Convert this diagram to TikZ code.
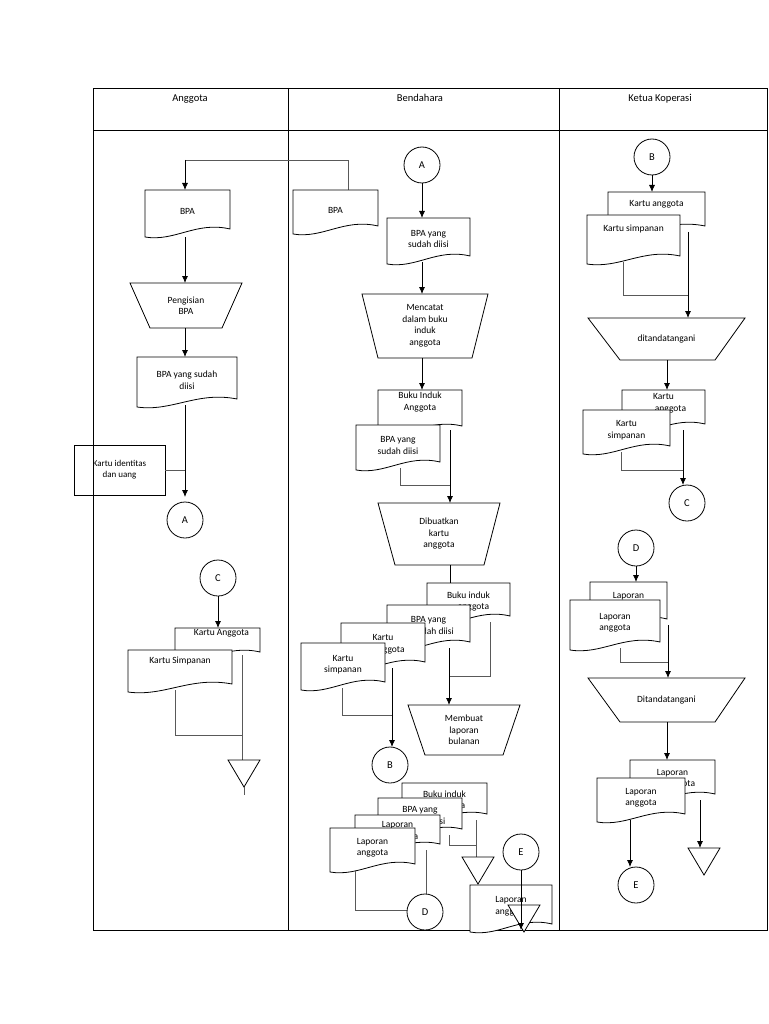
\documentclass[tikz,border=0pt]{standalone}
\usepackage{fontspec}
\setmainfont{Carlito}
\usetikzlibrary{arrows.meta}
\begin{document}
\begin{tikzpicture}[x=1pt,y=-1pt,line width=0.8pt,
 doc/.style={draw,fill=white},
 txt/.style={font=\fontsize{9.5}{11.5}\selectfont,align=center,inner sep=0pt},
 circ/.style={draw,circle,fill=white,minimum size=36pt,inner sep=0pt,font=\fontsize{10.5}{12}\selectfont},
 gl/.style={draw,gray!70!black,line width=0.6pt},
 arr/.style={draw,-{Latex[length=7pt,width=6pt]}},
 hdr/.style={font=\fontsize{10.5}{12}\selectfont,anchor=base}]
\useasboundingbox (0,0) rectangle (768,1024);
\newcommand\docu[6]{%
 \pgfmathsetmacro\dw{#4-#2}%
 \draw[doc] (#2,#3) -- (#4,#3) -- (#4,#5-8) .. controls (#2+0.6*\dw,#5-16) and (#2+0.35*\dw,#5+5) .. (#2,#5) -- cycle;
 \node[txt] (#1) at ({(#2+#4)/2},{(#3+#5)/2-2}) {#6};}
\newcommand\trap[8]{% name tl tr yt bl br yb text
 \draw[fill=white] (#2,#4) -- (#3,#4) -- (#6,#7) -- (#5,#7) -- cycle;
 \node[txt] (#1) at ({(#2+#3)/2},{(#4+#7)/2}) {#8};}
\newcommand\mrg[4]{% name x1 x2 y
 \draw[fill=white] (#2,#4) -- (#3,#4) -- ({(#2+#3)/2},#4+27) -- cycle;
 \coordinate (#1) at ({(#2+#3)/2},#4);}
% frame
\draw (93,88) rectangle (767,930);
\draw (93,130) -- (767,130);
\draw (288,88) -- (288,930);
\draw (559,88) -- (559,930);
\node[hdr] (h1) at (190,102) {Anggota};
\node[hdr] (h2) at (420,102) {Bendahara};
\node[hdr] (h3) at (660,102) {Ketua Koperasi};
% ===== Anggota
\draw[gl] (348,190) -- (348,160) -- (185,160);
\draw[arr] (185,160) -- (185,190);
\docu{bpa1}{145}{190}{230}{237}{BPA}
\draw[arr] (185,237) -- (185,283);
\trap{p1}{130}{242}{283}{150}{222}{328}{Pengisian\\BPA}
\draw[arr] (185,328) -- (185,357);
\docu{bpa2}{137}{357}{237}{407}{BPA yang sudah\\diisi}
\draw[arr] (185,405) -- (185,497);
\draw (74,445) rectangle (165,495);
\node[txt,font=\fontsize{9}{11}\selectfont] (ki) at (119.5,470) {Kartu identitas\\dan uang};
\draw[gl] (165,470) -- (185,470);
\node[circ] (A1) at (185,520) {A};
\node[circ] (C2) at (218,578) {C};
\draw[arr] (C2) -- (218,628);
\docu{ka1}{175}{628}{260}{660}{\hspace{8pt}Kartu Anggota\\[8pt]}
\docu{ks1}{128}{650}{232}{692}{Kartu Simpanan\\[6pt]}
\draw[gl] (175,690) -- (175,735) -- (242,735);
\draw[gl] (242,655) -- (242,760);
\mrg{m1}{228}{260}{760}
\draw[gl] (244,787) -- (244,795);
% ===== Bendahara
\docu{bpa3}{293}{190}{378}{234}{BPA}
\node[circ] (A2) at (422,165) {A};
\draw[arr] (A2) -- (422,218);
\docu{bpa4}{387}{218}{470}{264}{BPA yang\\sudah diisi}
\draw[arr] (422,262) -- (422,294);
\trap{p2}{362}{488}{294}{378}{472}{358}{Mencatat\\dalam buku\\induk\\anggota}
\draw[arr] (422,358) -- (422,390);
\docu{bi1}{378}{390}{462}{434}{Buku Induk\\Anggota\\[6pt]}
\docu{bpa5}{356}{425}{440}{470}{BPA yang\\sudah diisi}
\draw[gl] (400,468) -- (400,485) -- (450,485);
\draw[arr] (450,430) -- (450,503);
\trap{p3}{378}{500}{503}{395}{484}{565}{Dibuatkan\\kartu\\anggota}
\draw (450,565) -- (450,583);
\docu{bi2}{427}{583}{510}{624}{Buku induk\\\hspace{10pt}anggota}
\docu{bpa6}{387}{605}{470}{650}{BPA yang\\\hspace{10pt}sudah diisi}
\docu{ka2}{341}{623}{425}{670}{Kartu\\\hspace{12pt}anggota}
\docu{ks2}{301}{643}{385}{690}{Kartu\\simpanan}
\draw[gl] (490,622) -- (490,676) -- (449,676);
\draw[arr] (449,648) -- (449,705);
\draw[gl] (342,688) -- (342,715) -- (392,715);
\draw[arr] (392,668) -- (392,747);
\trap{p4}{408}{520}{705}{425}{503}{755}{Membuat\\laporan\\bulanan}
\node[circ] (B1) at (390,765) {B};
\docu{bi3}{402}{783}{487}{822}{Buku induk\\\hspace{10pt}anggota}
\docu{bpa7}{378}{798}{462}{837}{BPA yang\\\hspace{10pt}sudah diisi}
\docu{lp1}{355}{815}{440}{852}{Laporan\\\hspace{10pt}anggota}
\docu{la1}{330}{828}{415}{872}{Laporan\\anggota}
\draw[gl] (476,820) -- (476,857);
\draw[gl] (449,835) -- (449,845) -- (476,845);
\draw[gl] (355,870) -- (355,910) -- (407,910);
\draw[gl] (426,850) -- (426,894);
\node[circ] (D1) at (425,912) {D};
\mrg{m2}{462}{494}{857}
\docu{la2}{470}{885}{552}{932}{Laporan\\anggota}
\node[circ] (E1) at (521,852) {E};
\mrg{m3}{508}{540}{905}
\draw[arr] (E1) -- (521,930);
% ===== Ketua
\node[circ] (B2) at (652,157) {B};
\draw[arr] (B2) -- (652,192);
\docu{ka3}{608}{192}{705}{234}{Kartu anggota\\[4pt]}
\docu{ks3}{587}{215}{680}{264}{Kartu simpanan\\[8pt]}
\draw[gl] (623,262) -- (623,295) -- (688,295);
\draw[arr] (688,232) -- (688,318);
\trap{p5}{588}{745}{318}{620}{715}{360}{ditandatangani}
\draw[arr] (667,360) -- (667,390);
\docu{ka4}{622}{390}{705}{432}{Kartu\\\hspace{14pt}anggota\\[2pt]}
\docu{ks4}{583}{410}{670}{454}{Kartu\\simpanan}
\draw[gl] (621,452) -- (621,470) -- (683,470);
\draw[arr] (683,430) -- (683,485);
\node[circ] (C1) at (687,503) {C};
\node[circ] (D2) at (636,548) {D};
\draw[arr] (D2) -- (636,582);
\docu{lp2}{590}{582}{667}{627}{Laporan\\\hspace{12pt}anggota}
\docu{la3}{570}{600}{660}{650}{Laporan\\anggota}
\draw[gl] (620,648) -- (620,662) -- (668,662);
\draw[arr] (668,625) -- (668,678);
\trap{p6}{588}{745}{678}{620}{715}{722}{Ditandatangani}
\draw[arr] (667,722) -- (667,760);
\docu{lp3}{630}{760}{715}{802}{Laporan\\\hspace{14pt}anggota}
\docu{la4}{597}{778}{685}{822}{Laporan\\anggota}
\draw[arr] (630,820) -- (630,867);
\node[circ] (E2) at (636,885) {E};
\draw[arr] (700,800) -- (700,848);
\mrg{m4}{688}{720}{848}
\end{tikzpicture}
\end{document}
